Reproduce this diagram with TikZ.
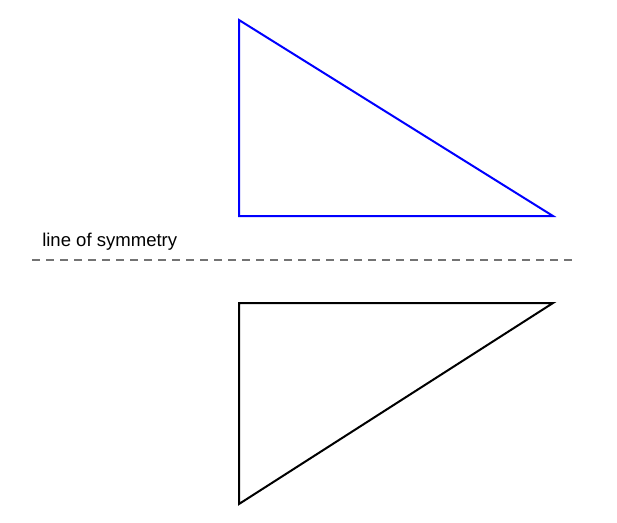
\documentclass[tikz,border=0pt]{standalone}
\usepackage{fontspec}
\setmainfont{Liberation Sans}
\begin{document}
\begin{tikzpicture}[x=0.75pt, y=-0.75pt,
    tri/.style={line width=1.5pt, line join=miter},
    symline/.style={color=black!55, line width=1.5pt, dash pattern=on 6pt off 4.5pt}]
    \useasboundingbox (0, 0) rectangle (617, 522);
    % upper triangle
    \coordinate (ua) at (239, 20);
    \coordinate (ub) at (239, 216);
    \coordinate (uc) at (553, 216);
    \draw[tri, color=blue](ua) -- (ub) -- (uc) -- cycle;
    % mirror line
    \coordinate (ml) at (32, 260);
    \coordinate (mr) at (572, 260);
    \draw[symline](ml) -- (mr);
    \node[anchor=base west, inner sep=0pt, font=\fontsize{13.9}{16}\selectfont] (lbl) at (42, 246) {line of symmetry};
    % lower triangle
    \coordinate (la) at (239, 303);
    \coordinate (lb) at (553, 303);
    \coordinate (lc) at (239, 504);
    \draw[tri, color=black](la) -- (lb) -- (lc) -- cycle;
\end{tikzpicture}
\end{document}
